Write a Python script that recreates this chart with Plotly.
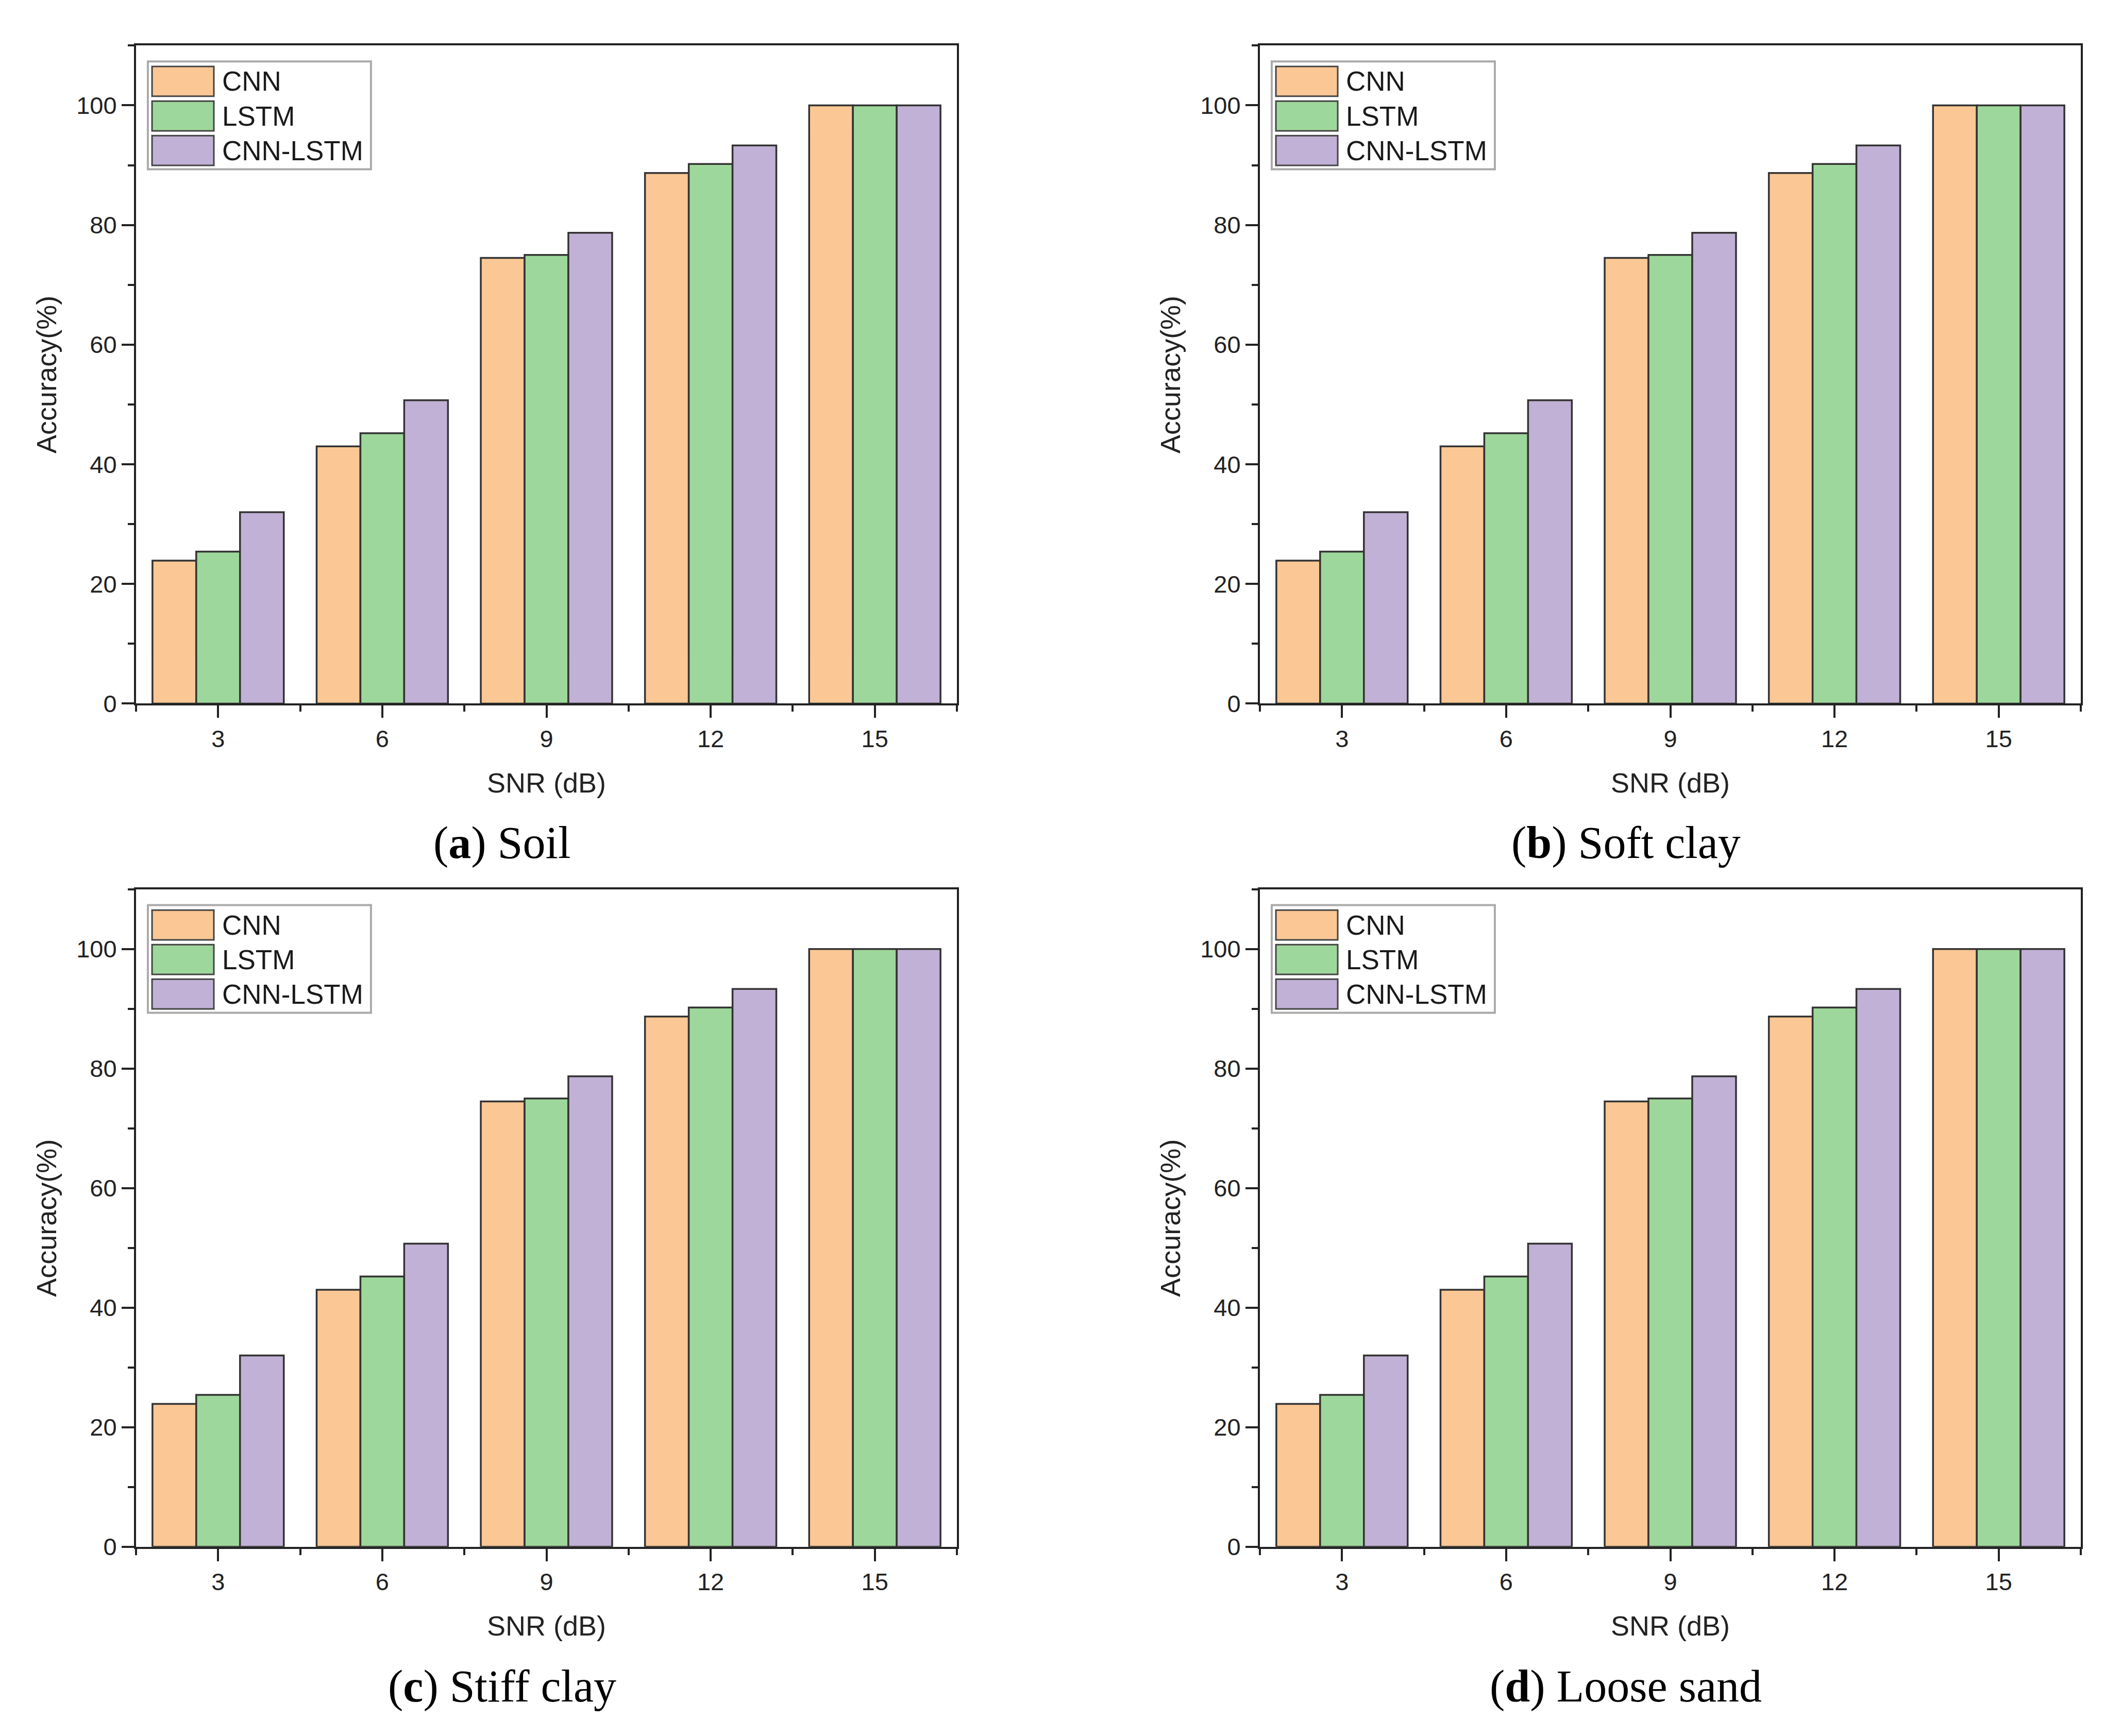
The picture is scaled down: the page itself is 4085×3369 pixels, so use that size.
import plotly.graph_objects as go
from plotly.subplots import make_subplots

# values (all four panels show the same numbers)
snr_db = [3, 6, 9, 12, 15]
cnn_acc = [23.9, 43.0, 74.5, 88.7, 100.0]
lstm_acc = [25.4, 45.2, 75.0, 90.2, 100.0]
cnn_lstm_acc = [32.0, 50.7, 78.7, 93.3, 100.0]

series_names = ["CNN", "LSTM", "CNN-LSTM"]
series_colors = ["#FBC794", "#9ED79B", "#C2B1D6"]
series_values = [cnn_acc, lstm_acc, cnn_lstm_acc]

panel_letters = ["a", "b", "c", "d"]
panel_names = ["Soil", "Soft clay", "Stiff clay", "Loose sand"]

W, H = 4085, 3369
AXCOL = "#222222"
SANS = "Liberation Sans, Arial, sans-serif"
SERIF = "Liberation Serif, Times New Roman, serif"

# plot-area pixel boxes (left, right, top, bottom) of the four panels
col_px = [(256, 1849), (2437, 4030)]
row_px = [(81, 1368), (1731, 3017)]
caption_x = [966, 3147]
caption_y = [1640, 3290]

fig = make_subplots(rows=2, cols=2)

for p in range(4):
    r, c = p // 2, p % 2
    for name, color, vals in zip(series_names, series_colors, series_values):
        fig.add_trace(go.Bar(x=snr_db, y=vals, name=name, showlegend=False,
                             marker=dict(color=color, line=dict(color="#333333", width=3.5))),
                      r + 1, c + 1)

layout_axes = {}
for p in range(4):
    r, c = p // 2, p % 2
    sfx = "" if p == 0 else str(p + 1)
    x0, x1 = col_px[c]
    top, bot = row_px[r]
    common = dict(showline=True, linecolor=AXCOL, linewidth=4, mirror=True,
                  ticks="outside", ticklen=24, tickwidth=4, tickcolor=AXCOL,
                  showgrid=False, zeroline=False,
                  tickfont=dict(family=SANS, size=47, color=AXCOL))
    layout_axes["xaxis" + sfx] = dict(
        common, domain=[x0 / W, x1 / W], range=[1.5, 16.5],
        tick0=3, dtick=3,
        minor=dict(ticks="outside", ticklen=12, tickwidth=4, tickcolor=AXCOL, tick0=1.5, dtick=1.5),
        title=dict(text="SNR (dB)", font=dict(family=SANS, size=54, color=AXCOL), standoff=42))
    layout_axes["yaxis" + sfx] = dict(
        common, domain=[(H - bot) / H, (H - top) / H], range=[0, 110],
        tick0=0, dtick=20,
        minor=dict(ticks="outside", ticklen=12, tickwidth=4, tickcolor=AXCOL, tick0=0, dtick=10),
        title=dict(text="Accuracy(%)", font=dict(family=SANS, size=54, color=AXCOL), standoff=22))

fig.update_layout(**layout_axes)

shapes = []
annotations = []
for p in range(4):
    r, c = p // 2, p % 2
    sfx = "" if p == 0 else str(p + 1)
    xr, yr = "x" + sfx + " domain", "y" + sfx + " domain"
    # legend frame
    shapes.append(dict(type="rect", xref=xr, yref=yr, x0=0.0144, x1=0.2862, y0=0.8120, y1=0.9759,
                       line=dict(color="#AAAAAA", width=4), fillcolor="white", layer="above"))
    for i, (name, color) in enumerate(zip(series_names, series_colors)):
        ytop = 0.9681 - i * 0.0525
        shapes.append(dict(type="rect", xref=xr, yref=yr, x0=0.0195, x1=0.0948,
                           y0=ytop - 0.0452, y1=ytop, fillcolor=color,
                           line=dict(color="#444444", width=3), layer="above"))
        annotations.append(dict(xref=xr, yref=yr, x=0.1035, y=ytop - 0.0226, text=name,
                                showarrow=False, xanchor="left", yanchor="middle",
                                font=dict(family=SANS, size=53, color="#1a1a1a")))
    annotations.append(dict(xref="paper", yref="paper", x=caption_x[c] / W,
                            y=(H - caption_y[r]) / H,
                            text="(<b>%s</b>) %s" % (panel_letters[p], panel_names[p]),
                            showarrow=False, xanchor="center", yanchor="middle",
                            font=dict(family=SERIF, size=88, color="black")))

fig.update_layout(width=W, height=H, margin=dict(l=0, r=0, t=0, b=0),
                  paper_bgcolor="white", plot_bgcolor="white",
                  barmode="group", bargap=0.2, bargroupgap=0,
                  shapes=shapes, annotations=annotations, showlegend=False)

fig.write_html("out.html")
